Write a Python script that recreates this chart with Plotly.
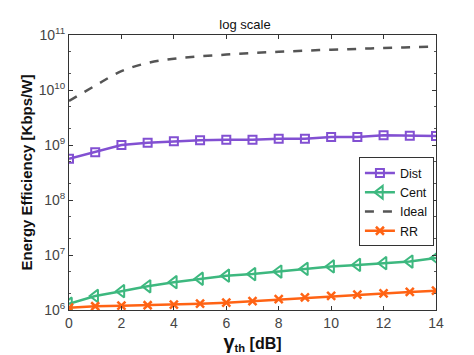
import plotly.graph_objects as go

gamma_th = list(range(15))
dist = [5.6e8, 7.4e8, 1.0e9, 1.1e9, 1.17e9, 1.22e9, 1.25e9, 1.25e9, 1.3e9, 1.3e9, 1.4e9, 1.4e9, 1.5e9, 1.48e9, 1.45e9]
cent = [1.3e6, 1.8e6, 2.2e6, 2.7e6, 3.2e6, 3.7e6, 4.2e6, 4.5e6, 5.0e6, 5.6e6, 6.2e6, 6.6e6, 7.1e6, 7.6e6, 8.8e6]
ideal = [6.3e9, 1.2e10, 2.2e10, 3.1e10, 3.7e10, 4.1e10, 4.4e10, 4.7e10, 4.95e10, 5.2e10, 5.4e10, 5.6e10, 5.8e10, 6.0e10, 6.2e10]
rr = [1.1e6, 1.17e6, 1.2e6, 1.22e6, 1.25e6, 1.3e6, 1.36e6, 1.45e6, 1.58e6, 1.7e6, 1.8e6, 1.9e6, 2.0e6, 2.13e6, 2.25e6]

ytick_vals = [1e6, 1e7, 1e8, 1e9, 1e10, 1e11]
ytick_text = ["10<sup>6</sup>", "10<sup>7</sup>", "10<sup>8</sup>", "10<sup>9</sup>", "10<sup>10</sup>", "10<sup>11</sup>"]
xtick_vals = [0, 2, 4, 6, 8, 10, 12, 14]

fig = go.Figure()
fig.add_trace(go.Scatter(x=gamma_th, y=dist, name="Dist", mode="lines+markers",
                         line=dict(color="#8250D2", width=2.5),
                         marker=dict(symbol="square-open", size=8, line=dict(width=2, color="#8250D2"))))
fig.add_trace(go.Scatter(x=gamma_th, y=cent, name="Cent", mode="lines+markers",
                         line=dict(color="#3DB87F", width=2.5),
                         marker=dict(symbol="triangle-left-open", size=11, line=dict(width=2, color="#3DB87F"))))
fig.add_trace(go.Scatter(x=gamma_th, y=ideal, name="Ideal", mode="lines",
                         line=dict(color="#555555", width=2.5, dash="dash", shape="spline", smoothing=1.0)))
fig.add_trace(go.Scatter(x=gamma_th, y=rr, name="RR", mode="lines+markers",
                         line=dict(color="#FF6314", width=2.5),
                         marker=dict(symbol="x-thin-open", size=8, line=dict(width=2.5, color="#FF6314"))))

fig.update_layout(
    width=474, height=355,
    margin=dict(l=61, r=46, t=27, b=53),
    paper_bgcolor="white", plot_bgcolor="white",
    font=dict(family="Liberation Sans, Arial", color="#444444", size=13),
    title=dict(text="log scale", x=0.5, xanchor="center", y=0.955, yanchor="middle",
               font=dict(size=13, color="#111111")),
    showlegend=True,
    legend=dict(x=0.79, y=0.555, xanchor="left", yanchor="top",
                bordercolor="#333333", borderwidth=1, bgcolor="white",
                font=dict(size=12.5, color="#111111"), tracegroupgap=0, itemwidth=30),
)
fig.update_xaxes(range=[0, 14], tickvals=xtick_vals, showgrid=False, zeroline=False,
                 showline=True, linecolor="#333333", linewidth=1, mirror="ticks",
                 ticks="inside", ticklen=4, tickcolor="#333333",
                 tickfont=dict(size=14),
                 title=dict(text="<b><span style='font-size:20px'>γ</span><sub>th</sub> [dB]</b>",
                            font=dict(size=16, color="#111111"), standoff=4))
fig.update_yaxes(type="log", range=[6, 11], tickvals=ytick_vals, ticktext=ytick_text,
                 showgrid=False, zeroline=False,
                 showline=True, linecolor="#333333", linewidth=1, mirror="ticks",
                 ticks="inside", ticklen=4, tickcolor="#333333",
                 tickfont=dict(size=14),
                 minor=dict(ticks="inside", ticklen=2, tickcolor="#555555", showgrid=False),
                 title=dict(text="<b>Energy Efficiency [Kbps/W]</b>", font=dict(size=15, color="#111111"), standoff=2))

fig.write_html("out.html")
